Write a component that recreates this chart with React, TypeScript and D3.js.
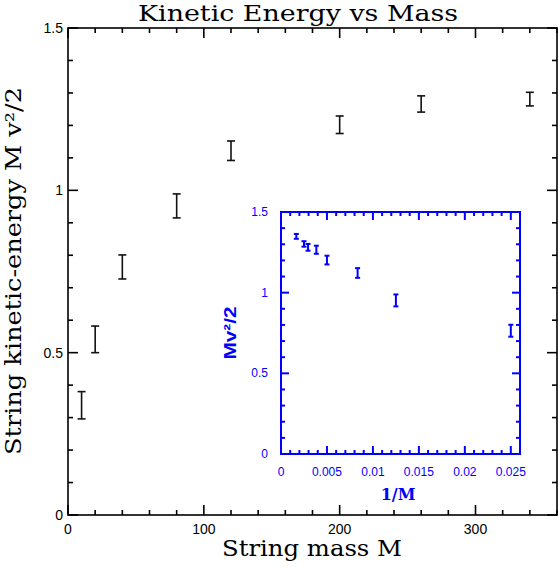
import * as d3 from "d3";

// string mass M and the measured kinetic energy M v^2/2 with its error
const masses = [10, 20, 40, 80, 120, 200, 260, 340, 400, 600];
const energy = [0.338, 0.541, 0.764, 0.952, 1.122, 1.202, 1.266, 1.281, 1.302, 1.349];
const errors = [0.042, 0.041, 0.037, 0.037, 0.03, 0.027, 0.025, 0.021, 0.017, 0.015];

const mainXTicks = [0, 100, 200, 300];
const mainYTicks = [0, 0.5, 1, 1.5];
const insetXTicks = [0, 0.005, 0.01, 0.015, 0.02, 0.025];
const insetYTicks = [0, 0.5, 1, 1.5];

const W = 558;
const H = 568;
const serif = "'DejaVu Serif', 'Liberation Serif', serif";
const sans = "'Liberation Sans', Arial, sans-serif";
const blue = "#0000ff";

const points = masses.map((m, i) => ({ m, inv: 1 / m, e: energy[i], err: errors[i] }));

function Frame({ x, y, color, sw, xMinor, yMinor, majLen, minLen, xMajor, yMajor }) {
  const [x0, x1] = x.range();
  const [y0, y1] = y.range(); // y0 bottom, y1 top
  const ticks = [];
  xMinor.forEach((v, i) => {
    const px = x(v);
    const len = xMajor.some((t) => Math.abs(t - v) < 1e-9) ? majLen : minLen;
    ticks.push(<line key={"xb" + i} x1={px} x2={px} y1={y0} y2={y0 - len} />);
    ticks.push(<line key={"xt" + i} x1={px} x2={px} y1={y1} y2={y1 + len} />);
  });
  yMinor.forEach((v, i) => {
    const py = y(v);
    const len = yMajor.some((t) => Math.abs(t - v) < 1e-9) ? majLen : minLen;
    ticks.push(<line key={"yl" + i} x1={x0} x2={x0 + len} y1={py} y2={py} />);
    ticks.push(<line key={"yr" + i} x1={x1} x2={x1 - len} y1={py} y2={py} />);
  });
  return (
    <g stroke={color} strokeWidth={sw} fill="none">
      <rect x={x0} y={y1} width={x1 - x0} height={y0 - y1} fill="#fff" />
      {ticks}
    </g>
  );
}

function ErrorBars({ data, x, y, color, cap, sw }) {
  return (
    <g stroke={color} strokeWidth={sw}>
      {data.map((d, i) => {
        const px = x(d.xv);
        const top = y(d.e + d.err);
        const bot = y(d.e - d.err);
        return (
          <g key={i}>
            <line x1={px} x2={px} y1={top} y2={bot} />
            <line x1={px - cap} x2={px + cap} y1={top} y2={top} />
            <line x1={px - cap} x2={px + cap} y1={bot} y2={bot} />
          </g>
        );
      })}
    </g>
  );
}

export default function App() {
  // main plot
  const x = d3.scaleLinear().domain([0, 360]).range([68, 557]);
  const y = d3.scaleLinear().domain([0, 1.5]).range([515, 28]);
  // inset plot
  const ix = d3.scaleLinear().domain([0, 0.026]).range([281, 520]);
  const iy = d3.scaleLinear().domain([0, 1.5]).range([454, 212]);

  const mainData = points.filter((p) => p.m <= 360).map((p) => ({ ...p, xv: p.m }));
  const insetData = points.filter((p) => p.inv <= 0.026).map((p) => ({ ...p, xv: p.inv }));

  return (
    <svg width={W} height={H} style={{ position: "absolute", left: 0, top: 0, background: "#fff" }}>
      <Frame
        x={x} y={y} color="#000" sw={1.6}
        xMinor={d3.range(0, 361, 20)} yMinor={d3.range(0, 1.51, 0.1)}
        xMajor={mainXTicks} yMajor={mainYTicks} majLen={10} minLen={5}
      />
      <text x={298} y={21} textAnchor="middle" fontFamily={serif} fontSize={22} textLength={320} lengthAdjust="spacingAndGlyphs">
        Kinetic Energy vs Mass
      </text>
      {mainXTicks.map((t) => (
        <text key={t} x={x(t)} y={534} textAnchor="middle" fontFamily={sans} fontSize={14}>{t}</text>
      ))}
      {mainYTicks.map((t) => (
        <text key={t} x={63} y={y(t) + 5} textAnchor="end" fontFamily={sans} fontSize={14}>{t}</text>
      ))}
      <text x={312} y={556} textAnchor="middle" fontFamily={serif} fontSize={22} textLength={180} lengthAdjust="spacingAndGlyphs">
        String mass M
      </text>
      <text
        transform={`translate(21,271) rotate(-90)`} textAnchor="middle" fontFamily={serif} fontSize={22}
        textLength={368} lengthAdjust="spacingAndGlyphs"
      >
        String kinetic-energy M v²/2
      </text>
      <ErrorBars data={mainData} x={x} y={y} color="#111" cap={4} sw={1.6} />

      <Frame
        x={ix} y={iy} color={blue} sw={2}
        xMinor={d3.range(0, 0.0261, 0.001)} yMinor={d3.range(0, 1.51, 0.1)}
        xMajor={insetXTicks} yMajor={insetYTicks} majLen={8} minLen={4}
      />
      {insetXTicks.map((t) => (
        <text key={t} x={ix(t)} y={476} textAnchor="middle" fontFamily={sans} fontSize={12} fill={blue}>{t}</text>
      ))}
      {insetYTicks.map((t) => (
        <text key={t} x={268} y={iy(t) + 4} textAnchor="end" fontFamily={sans} fontSize={12} fill={blue}>{t}</text>
      ))}
      <text x={398} y={500} textAnchor="middle" fontFamily={serif} fontWeight="bold" fontSize={16} fill={blue}>1/M</text>
      <text
        transform={`translate(236,333) rotate(-90)`} textAnchor="middle" fontFamily={sans} fontWeight="bold"
        fontSize={16} fill={blue} textLength={53} lengthAdjust="spacingAndGlyphs"
      >
        Mv²/2
      </text>
      <ErrorBars data={insetData} x={ix} y={iy} color={blue} cap={2.5} sw={2} />
    </svg>
  );
}
